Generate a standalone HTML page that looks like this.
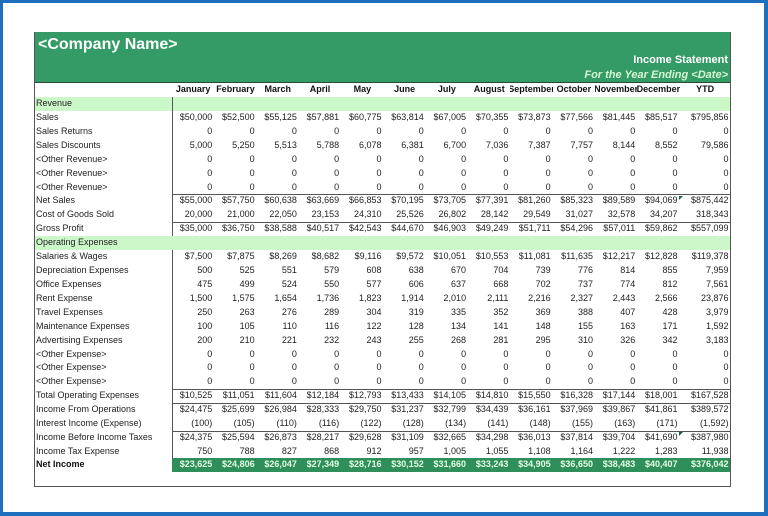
<!DOCTYPE html>
<html><head><meta charset="utf-8"><style>
*{margin:0;padding:0}
body{width:768px;height:516px;position:relative;overflow:hidden;background:#fff;font-family:"Liberation Sans",Arial,sans-serif}
.frame{position:absolute;left:0;top:0;width:768px;height:516px;box-sizing:border-box;border-style:solid;border-color:#1f6fbf;border-width:3px 4px 4px 3px}
.hdr{position:absolute;left:34px;top:32px;width:697px;height:51px;background:#349a66;border-bottom:1px solid #2a4a38;box-sizing:border-box}
.cn{position:absolute;left:4px;top:4.5px;font-size:16px;line-height:16px;font-weight:bold;color:#fff;white-space:nowrap}
.is{position:absolute;right:3px;top:22.7px;font-size:11px;line-height:11px;font-weight:bold;color:#fff;white-space:nowrap}
.fy{position:absolute;right:3px;top:37.7px;font-size:11px;line-height:11px;font-weight:bold;font-style:italic;color:#d6f7d2;white-space:nowrap}
.r{position:absolute;left:34px;width:697px;height:13.92px;display:flex;font-size:9px;line-height:13.92px;color:#222}
.r .l{width:138px;padding-left:2px;box-sizing:border-box;white-space:nowrap;overflow:hidden}
.r .c{width:42.3px;text-align:right;padding-right:2px;box-sizing:border-box;white-space:nowrap}
.r .y{width:51px;text-align:right;padding-right:2px;box-sizing:border-box;white-space:nowrap}
.h{font-weight:bold;color:#111}
.h .c,.h .y{display:flex;justify-content:center;overflow:hidden;padding:0}
.band{position:absolute;left:34px;width:697px;height:13.92px;background:#ccf7c8}
.ln{position:absolute;background:#555}
.ni{position:absolute;left:172px;top:458px;width:559px;height:14px;background:#2f8f5b}
.nir .c,.nir .y{color:#e4ffe4;font-weight:bold}
.nir .l{font-weight:bold;color:#111}
.tri{position:absolute;width:0;height:0;border-top:4px solid #1b5e3a;border-right:4px solid transparent}
</style></head><body>
<div class="frame"></div>
<div class="hdr">
<div class="cn">&lt;Company Name&gt;</div>
<div class="is">Income Statement</div>
<div class="fy">For the Year Ending &lt;Date&gt;</div>
</div>

<div class="band" style="top:97px"></div>
<div class="band" style="top:236.2px"></div>
<div class="ni"></div>

<!-- frame lines -->
<div class="ln" style="left:34px;top:32px;width:1px;height:455px"></div>
<div class="ln" style="left:730px;top:32px;width:1px;height:455px"></div>
<div class="ln" style="left:34px;top:486px;width:697px;height:1px"></div>
<div class="ln" style="left:172px;top:97px;width:1px;height:139px"></div>
<div class="ln" style="left:172px;top:250px;width:1px;height:208px"></div>
<!-- inner horizontal lines -->
<div class="ln" style="left:172px;top:194.4px;width:559px;height:1px"></div>
<div class="ln" style="left:172px;top:222.3px;width:559px;height:1px"></div>
<div class="ln" style="left:172px;top:389.3px;width:559px;height:1px"></div>
<div class="ln" style="left:172px;top:403.2px;width:559px;height:1px"></div>
<div class="ln" style="left:172px;top:431px;width:559px;height:1px"></div>

<div class="tri" style="left:679px;top:196px"></div>
<div class="tri" style="left:679px;top:432px"></div>

<div class="r h" style="top:83px"><div class="l"></div><div class="c"><span>January</span></div><div class="c"><span>February</span></div><div class="c"><span>March</span></div><div class="c"><span>April</span></div><div class="c"><span>May</span></div><div class="c"><span>June</span></div><div class="c"><span>July</span></div><div class="c"><span>August</span></div><div class="c"><span>September</span></div><div class="c"><span>October</span></div><div class="c"><span>November</span></div><div class="c"><span>December</span></div><div class="y"><span>YTD</span></div></div>

<div class="r" style="top:97px"><div class="l">Revenue</div></div>
<div class="r" style="top:110.92px"><div class="l">Sales</div><div class="c">$50,000</div><div class="c">$52,500</div><div class="c">$55,125</div><div class="c">$57,881</div><div class="c">$60,775</div><div class="c">$63,814</div><div class="c">$67,005</div><div class="c">$70,355</div><div class="c">$73,873</div><div class="c">$77,566</div><div class="c">$81,445</div><div class="c">$85,517</div><div class="y">$795,856</div></div>
<div class="r" style="top:124.84px"><div class="l">Sales Returns</div><div class="c">0</div><div class="c">0</div><div class="c">0</div><div class="c">0</div><div class="c">0</div><div class="c">0</div><div class="c">0</div><div class="c">0</div><div class="c">0</div><div class="c">0</div><div class="c">0</div><div class="c">0</div><div class="y">0</div></div>
<div class="r" style="top:138.76px"><div class="l">Sales Discounts</div><div class="c">5,000</div><div class="c">5,250</div><div class="c">5,513</div><div class="c">5,788</div><div class="c">6,078</div><div class="c">6,381</div><div class="c">6,700</div><div class="c">7,036</div><div class="c">7,387</div><div class="c">7,757</div><div class="c">8,144</div><div class="c">8,552</div><div class="y">79,586</div></div>
<div class="r" style="top:152.68px"><div class="l">&lt;Other Revenue&gt;</div><div class="c">0</div><div class="c">0</div><div class="c">0</div><div class="c">0</div><div class="c">0</div><div class="c">0</div><div class="c">0</div><div class="c">0</div><div class="c">0</div><div class="c">0</div><div class="c">0</div><div class="c">0</div><div class="y">0</div></div>
<div class="r" style="top:166.6px"><div class="l">&lt;Other Revenue&gt;</div><div class="c">0</div><div class="c">0</div><div class="c">0</div><div class="c">0</div><div class="c">0</div><div class="c">0</div><div class="c">0</div><div class="c">0</div><div class="c">0</div><div class="c">0</div><div class="c">0</div><div class="c">0</div><div class="y">0</div></div>
<div class="r" style="top:180.52px"><div class="l">&lt;Other Revenue&gt;</div><div class="c">0</div><div class="c">0</div><div class="c">0</div><div class="c">0</div><div class="c">0</div><div class="c">0</div><div class="c">0</div><div class="c">0</div><div class="c">0</div><div class="c">0</div><div class="c">0</div><div class="c">0</div><div class="y">0</div></div>
<div class="r" style="top:194.44px"><div class="l">Net Sales</div><div class="c">$55,000</div><div class="c">$57,750</div><div class="c">$60,638</div><div class="c">$63,669</div><div class="c">$66,853</div><div class="c">$70,195</div><div class="c">$73,705</div><div class="c">$77,391</div><div class="c">$81,260</div><div class="c">$85,323</div><div class="c">$89,589</div><div class="c">$94,069</div><div class="y">$875,442</div></div>
<div class="r" style="top:208.36px"><div class="l">Cost of Goods Sold</div><div class="c">20,000</div><div class="c">21,000</div><div class="c">22,050</div><div class="c">23,153</div><div class="c">24,310</div><div class="c">25,526</div><div class="c">26,802</div><div class="c">28,142</div><div class="c">29,549</div><div class="c">31,027</div><div class="c">32,578</div><div class="c">34,207</div><div class="y">318,343</div></div>
<div class="r" style="top:222.28px"><div class="l">Gross Profit</div><div class="c">$35,000</div><div class="c">$36,750</div><div class="c">$38,588</div><div class="c">$40,517</div><div class="c">$42,543</div><div class="c">$44,670</div><div class="c">$46,903</div><div class="c">$49,249</div><div class="c">$51,711</div><div class="c">$54,296</div><div class="c">$57,011</div><div class="c">$59,862</div><div class="y">$557,099</div></div>
<div class="r" style="top:236.2px"><div class="l">Operating Expenses</div></div>
<div class="r" style="top:250.12px"><div class="l">Salaries &amp; Wages</div><div class="c">$7,500</div><div class="c">$7,875</div><div class="c">$8,269</div><div class="c">$8,682</div><div class="c">$9,116</div><div class="c">$9,572</div><div class="c">$10,051</div><div class="c">$10,553</div><div class="c">$11,081</div><div class="c">$11,635</div><div class="c">$12,217</div><div class="c">$12,828</div><div class="y">$119,378</div></div>
<div class="r" style="top:264.04px"><div class="l">Depreciation Expenses</div><div class="c">500</div><div class="c">525</div><div class="c">551</div><div class="c">579</div><div class="c">608</div><div class="c">638</div><div class="c">670</div><div class="c">704</div><div class="c">739</div><div class="c">776</div><div class="c">814</div><div class="c">855</div><div class="y">7,959</div></div>
<div class="r" style="top:277.96px"><div class="l">Office Expenses</div><div class="c">475</div><div class="c">499</div><div class="c">524</div><div class="c">550</div><div class="c">577</div><div class="c">606</div><div class="c">637</div><div class="c">668</div><div class="c">702</div><div class="c">737</div><div class="c">774</div><div class="c">812</div><div class="y">7,561</div></div>
<div class="r" style="top:291.88px"><div class="l">Rent Expense</div><div class="c">1,500</div><div class="c">1,575</div><div class="c">1,654</div><div class="c">1,736</div><div class="c">1,823</div><div class="c">1,914</div><div class="c">2,010</div><div class="c">2,111</div><div class="c">2,216</div><div class="c">2,327</div><div class="c">2,443</div><div class="c">2,566</div><div class="y">23,876</div></div>
<div class="r" style="top:305.8px"><div class="l">Travel Expenses</div><div class="c">250</div><div class="c">263</div><div class="c">276</div><div class="c">289</div><div class="c">304</div><div class="c">319</div><div class="c">335</div><div class="c">352</div><div class="c">369</div><div class="c">388</div><div class="c">407</div><div class="c">428</div><div class="y">3,979</div></div>
<div class="r" style="top:319.72px"><div class="l">Maintenance Expenses</div><div class="c">100</div><div class="c">105</div><div class="c">110</div><div class="c">116</div><div class="c">122</div><div class="c">128</div><div class="c">134</div><div class="c">141</div><div class="c">148</div><div class="c">155</div><div class="c">163</div><div class="c">171</div><div class="y">1,592</div></div>
<div class="r" style="top:333.64px"><div class="l">Advertising Expenses</div><div class="c">200</div><div class="c">210</div><div class="c">221</div><div class="c">232</div><div class="c">243</div><div class="c">255</div><div class="c">268</div><div class="c">281</div><div class="c">295</div><div class="c">310</div><div class="c">326</div><div class="c">342</div><div class="y">3,183</div></div>
<div class="r" style="top:347.56px"><div class="l">&lt;Other Expense&gt;</div><div class="c">0</div><div class="c">0</div><div class="c">0</div><div class="c">0</div><div class="c">0</div><div class="c">0</div><div class="c">0</div><div class="c">0</div><div class="c">0</div><div class="c">0</div><div class="c">0</div><div class="c">0</div><div class="y">0</div></div>
<div class="r" style="top:361.48px"><div class="l">&lt;Other Expense&gt;</div><div class="c">0</div><div class="c">0</div><div class="c">0</div><div class="c">0</div><div class="c">0</div><div class="c">0</div><div class="c">0</div><div class="c">0</div><div class="c">0</div><div class="c">0</div><div class="c">0</div><div class="c">0</div><div class="y">0</div></div>
<div class="r" style="top:375.4px"><div class="l">&lt;Other Expense&gt;</div><div class="c">0</div><div class="c">0</div><div class="c">0</div><div class="c">0</div><div class="c">0</div><div class="c">0</div><div class="c">0</div><div class="c">0</div><div class="c">0</div><div class="c">0</div><div class="c">0</div><div class="c">0</div><div class="y">0</div></div>
<div class="r" style="top:389.32px"><div class="l">Total Operating Expenses</div><div class="c">$10,525</div><div class="c">$11,051</div><div class="c">$11,604</div><div class="c">$12,184</div><div class="c">$12,793</div><div class="c">$13,433</div><div class="c">$14,105</div><div class="c">$14,810</div><div class="c">$15,550</div><div class="c">$16,328</div><div class="c">$17,144</div><div class="c">$18,001</div><div class="y">$167,528</div></div>
<div class="r" style="top:403.24px"><div class="l">Income From Operations</div><div class="c">$24,475</div><div class="c">$25,699</div><div class="c">$26,984</div><div class="c">$28,333</div><div class="c">$29,750</div><div class="c">$31,237</div><div class="c">$32,799</div><div class="c">$34,439</div><div class="c">$36,161</div><div class="c">$37,969</div><div class="c">$39,867</div><div class="c">$41,861</div><div class="y">$389,572</div></div>
<div class="r" style="top:417.16px"><div class="l">Interest Income (Expense)</div><div class="c">(100)</div><div class="c">(105)</div><div class="c">(110)</div><div class="c">(116)</div><div class="c">(122)</div><div class="c">(128)</div><div class="c">(134)</div><div class="c">(141)</div><div class="c">(148)</div><div class="c">(155)</div><div class="c">(163)</div><div class="c">(171)</div><div class="y">(1,592)</div></div>
<div class="r" style="top:431.08px"><div class="l">Income Before Income Taxes</div><div class="c">$24,375</div><div class="c">$25,594</div><div class="c">$26,873</div><div class="c">$28,217</div><div class="c">$29,628</div><div class="c">$31,109</div><div class="c">$32,665</div><div class="c">$34,298</div><div class="c">$36,013</div><div class="c">$37,814</div><div class="c">$39,704</div><div class="c">$41,690</div><div class="y">$387,980</div></div>
<div class="r" style="top:445px"><div class="l">Income Tax Expense</div><div class="c">750</div><div class="c">788</div><div class="c">827</div><div class="c">868</div><div class="c">912</div><div class="c">957</div><div class="c">1,005</div><div class="c">1,055</div><div class="c">1,108</div><div class="c">1,164</div><div class="c">1,222</div><div class="c">1,283</div><div class="y">11,938</div></div>
<div class="r nir" style="top:458px"><div class="l">Net Income</div><div class="c">$23,625</div><div class="c">$24,806</div><div class="c">$26,047</div><div class="c">$27,349</div><div class="c">$28,716</div><div class="c">$30,152</div><div class="c">$31,660</div><div class="c">$33,243</div><div class="c">$34,905</div><div class="c">$36,650</div><div class="c">$38,483</div><div class="c">$40,407</div><div class="y">$376,042</div></div>
</body></html>
